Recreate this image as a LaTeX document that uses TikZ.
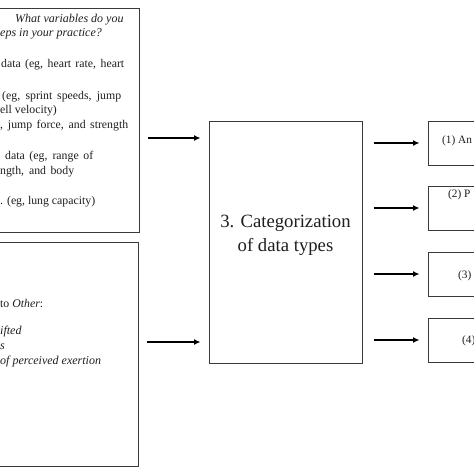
\documentclass[tikz,border=0pt]{standalone}
\usepackage{fontspec}
\setmainfont{Liberation Serif}
\usetikzlibrary{arrows.meta}
\definecolor{boxgray}{HTML}{3A3A3A}
\definecolor{ink}{HTML}{1E1E1E}
\begin{document}
\begin{tikzpicture}[x=1pt, y=-1pt,
    box/.style={draw=boxgray, line width=1pt, inner sep=0pt},
    txt/.style={anchor=west, inner sep=0pt, text=ink, font=\fontsize{11.8}{14}\selectfont},
    qtxt/.style={txt, font=\fontsize{12}{14}\selectfont\itshape},
    small/.style={anchor=west, inner sep=0pt, text=ink, font=\fontsize{11.3}{13}\selectfont},
    arr/.style={draw=black, line width=1.8pt, -{Latex[length=6.5pt,width=6pt]}}]
      \useasboundingbox (0,0) rectangle (474,474);
      \clip (0,0) rectangle (474,474);

      % input boxes (left)
      \node[box, minimum width=159pt, minimum height=224pt] (tl) at (59.5,120) {};
      \node[box, minimum width=158pt, minimum height=224pt] (bl) at (59,354) {};

      \node[qtxt] (q1) at (15,20) {What variables do you};
      \node[qtxt] (q2) at (0,34) {eps in your practice?};
      \node[txt] (t1) at (1,65) {\makebox[123pt][s]{data (eg, heart rate, heart}};
      \node[txt] (t2) at (2,97) {\makebox[119pt][s]{(eg, sprint speeds, jump}};
      \node[txt] (t3) at (0,111) {ell velocity)};
      \node[txt] (t4) at (0,126) {\makebox[128pt][s]{, jump force, and strength}};
      \node[txt] (t5) at (5,157) {\makebox[88pt][s]{data (eg, range of}};
      \node[txt] (t6) at (0,172) {\makebox[74pt][s]{ngth, and body}};
      \node[txt] (t7) at (0,202) {. (eg, lung capacity)};

      \node[txt] (o1) at (0,303) {to \textit{Other}:};
      \node[qtxt] (o2) at (0,332) {ifted};
      \node[qtxt] (o3) at (0,347) {s};
      \node[qtxt] (o4) at (0,362) {of perceived exertion};

      % categorization
      \node[box, minimum width=153pt, minimum height=242pt] (mid) at (285.5,242) {};
      \node[inner sep=0pt, align=center, text=ink, font=\fontsize{18.7}{24}\selectfont]
        (midtext) at (285.5,235) {3. Categorization\\of data types};

      % data types (right)
      \node[box, minimum width=112pt, minimum height=44pt] (r1) at (484,143) {};
      \node[box, minimum width=112pt, minimum height=44pt] (r2) at (484,208) {};
      \node[box, minimum width=112pt, minimum height=44pt] (r3) at (484,274) {};
      \node[box, minimum width=112pt, minimum height=44pt] (r4) at (484,340) {};
      \node[small] (l1) at (442,141) {(1) An};
      \node[small] (l2) at (448,195) {(2) P};
      \node[small] (l3) at (458,276) {(3)};
      \node[small] (l4) at (462,341) {(4)};

      \draw[arr, shorten <=8pt, shorten >=8pt] ([yshift=-18pt]tl.east) -- ([yshift=-18pt]tl.east -| mid.west);
      \draw[arr, shorten <=8pt, shorten >=8pt] ([yshift=12pt]bl.east) -- ([yshift=12pt]bl.east -| mid.west);
      \foreach \r in {r1,r2,r3,r4}
        \draw[arr, shorten <=11pt, shorten >=8pt] (mid.east |- \r.west) -- (\r.west);
\end{tikzpicture}
\end{document}
